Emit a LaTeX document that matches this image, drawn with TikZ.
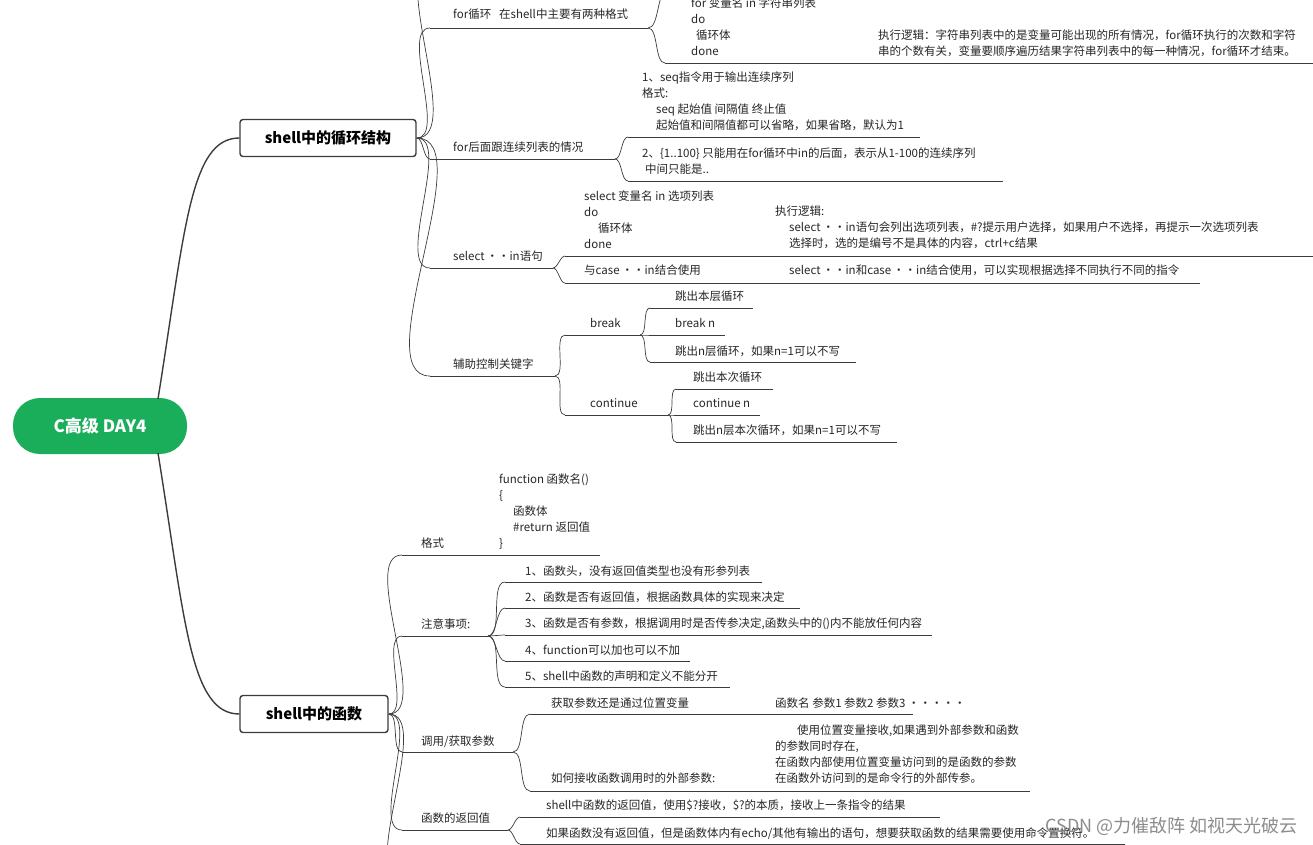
\documentclass[tikz,border=0pt]{standalone}
\usepackage{fontspec}
\setmainfont{Noto Sans CJK SC}
\newfontfamily\cjk{Noto Sans CJK SC}
\definecolor{rootg}{HTML}{1AAE5A}
\definecolor{lnc}{HTML}{3C3C3C}
\newcommand\uline[4]{\coordinate (#1L) at (#2,#3);\coordinate (#1R) at (#4,#3);\draw[ln] (#1L) -- (#1R);}
\tikzset{
  t/.style={font=\cjk\fontsize{11.5}{16}\selectfont, inner sep=0, anchor=north west, align=left, text=black!85},
  ln/.style={draw=lnc, line width=0.7},
  cv/.style={ln, out=0, in=180, looseness=0.7},
  mainbox/.style={draw=lnc, line width=1.4, rounded corners=3, fill=white, minimum width=176, minimum height=37, font=\cjk\bfseries\fontsize{15}{18}\selectfont},
}
\begin{document}
\begin{tikzpicture}[x=1pt,y=-1pt]
\useasboundingbox (0,0) rectangle (1313,845);
\clip (0,0) rectangle (1313,845);
% root
\node[fill=rootg, rounded corners=27, minimum width=174, minimum height=56, text=white, font=\cjk\bfseries\fontsize{17}{20}\selectfont] (root) at (100,426) {C高级 DAY4};
\node[mainbox] (m1) at (328,138) {shell中的循环结构};
\node[mainbox, minimum width=148] (m2) at (314,714) {shell中的函数};
\coordinate (rt) at (158,399);
\coordinate (rb) at (158,453);
\draw[ln, line width=1.4] (rt) .. controls (185,230) and (190,138) .. (m1.west);
\draw[ln, line width=1.4] (rb) .. controls (185,620) and (190,714) .. (m2.west);

% ---------- loop section
\uline{off1}{434}{-40}{560}
\uline{fl}{430}{28}{648}
\uline{fs}{430}{159}{615}
\uline{se}{430}{268}{553}
\uline{fz}{430}{376}{555}
\foreach \c in {off1,fl,fs,se,fz} \draw[cv] (m1.east) to (\c L);
\node[t] (tfl) at (453,9) {for循环\hspace{8pt}在shell中主要有两种格式};
\node[t] (tfs) at (453,142) {for后面跟连续列表的情况};
\node[t] (tse) at (453,251) {select\,··in语句};
\node[t] (tfz) at (453,359) {辅助控制关键字};

\uline{off2}{668}{-10}{1313}
\uline{fb}{665}{63}{1313}
\draw[cv] (flR) to (off2L);
\draw[cv] (flR) to (fbL);
\node[t] (tfb) at (691,-2) {for 变量名 in 字符串列表\\do\\\hspace{5pt}循环体\\done};
\node[t] (tfb2) at (878,30) {执行逻辑：字符串列表中的是变量可能出现的所有情况，for循环执行的次数和字符\\串的个数有关，变量要顺序遍历结果字符串列表中的每一种情况，for循环才结束。};

\uline{sq}{628}{137}{920}
\uline{rg}{628}{181}{1003}
\draw[cv] (fsR) to (sqL);
\draw[cv] (fsR) to (rgL);
\node[t] (tsq) at (642,72) {1、seq指令用于输出连续序列\\格式:\\\hspace{14pt}seq 起始值 间隔值 终止值\\\hspace{14pt}起始值和间隔值都可以省略，如果省略，默认为1};
\node[t] (trg) at (642,148) {2、\{1..100\} 只能用在for循环中in的后面，表示从1-100的连续序列\\\hspace{3pt}中间只能是..};

\uline{sb}{565}{256}{1313}
\uline{sc}{565}{283}{1200}
\draw[cv] (seR) to (sbL);
\draw[cv] (seR) to (scL);
\node[t] (tsb) at (584,191) {select 变量名 in 选项列表\\do\\\hspace{14pt}循环体\\done};
\node[t] (tsb2) at (775,206) {执行逻辑:\\\hspace{14pt}select\,··in语句会列出选项列表，\#?提示用户选择，如果用户不选择，再提示一次选项列表\\\hspace{14pt}选择时，选的是编号不是具体的内容，ctrl+c结果};
\node[t] (tsc) at (584,265) {与case\,··in结合使用};
\node[t] (tsc2) at (789,265) {select\,··in和case\,··in结合使用，可以实现根据选择不同执行不同的指令};

\uline{bk}{565}{335}{640}
\uline{ct}{565}{415}{668}
\draw[cv] (fzR) to (bkL);
\draw[cv] (fzR) to (ctL);
\node[t] (tbk) at (590,318) {break};
\node[t] (tct) at (590,398) {continue};
\uline{b1}{650}{308}{753}
\uline{b2}{650}{335}{725}
\uline{b3}{650}{362}{856}
\foreach \c in {b1,b2,b3} \draw[cv] (bkR) to (\c L);
\node[t] (tb1) at (675,291) {跳出本层循环};
\node[t] (tb2) at (675,318) {break n};
\node[t] (tb3) at (675,346) {跳出n层循环，如果n=1可以不写};
\uline{c1}{676}{389}{773}
\uline{c2}{676}{415}{760}
\uline{c3}{676}{442}{897}
\foreach \c in {c1,c2,c3} \draw[cv] (ctR) to (\c L);
\node[t] (tc1) at (693,372) {跳出本次循环};
\node[t] (tc2) at (693,398) {continue n};
\node[t] (tc3) at (693,425) {跳出n层本次循环，如果n=1可以不写};

% ---------- function section
\uline{gs}{402}{555}{600}
\uline{zy}{402}{636}{488}
\uline{dy}{402}{752}{513}
\uline{fh}{402}{830}{508}
\uline{off3}{402}{880}{500}
\foreach \c in {gs,zy,dy,fh,off3} \draw[cv] (m2.east) to (\c L);
\node[t] (tgs) at (421,538) {格式};
\node[t] (tgs2) at (499,474) {function 函数名()\\\{\\\hspace{14pt}函数体\\\hspace{14pt}\#return 返回值\\\}};
\node[t] (tzy) at (421,619) {注意事项:};
\node[t] (tdy) at (421,736) {调用/获取参数};
\node[t] (tfh) at (421,813) {函数的返回值};

\uline{z1}{505}{582}{762}
\uline{z2}{505}{608}{800}
\uline{z3}{505}{635}{932}
\uline{z4}{505}{661}{690}
\uline{z5}{505}{687}{730}
\foreach \c in {z1,z2,z3,z4,z5} \draw[cv] (zyR) to (\c L);
\node[t] (tz1) at (525,566) {1、函数头，没有返回值类型也没有形参列表};
\node[t] (tz2) at (525,592) {2、函数是否有返回值，根据函数具体的实现来决定};
\node[t] (tz3) at (525,618) {3、函数是否有参数，根据调用时是否传参决定,函数头中的()内不能放任何内容};
\node[t] (tz4) at (525,645) {4、function可以加也可以不加};
\node[t] (tz5) at (525,671) {5、shell中函数的声明和定义不能分开};

\uline{d1}{530}{714}{913}
\uline{d2}{530}{791}{1030}
\draw[cv] (dyR) to (d1L);
\draw[cv] (dyR) to (d2L);
\node[t] (td1) at (551,698) {获取参数还是通过位置变量};
\node[t] (td1b) at (775,698) {函数名 参数1 参数2 参数3 ·····};
\node[t] (td2) at (551,773) {如何接收函数调用时的外部参数:};
\node[t] (td2b) at (775,725) {\hspace{22pt}使用位置变量接收,如果遇到外部参数和函数\\的参数同时存在,\\在函数内部使用位置变量访问到的是函数的参数\\在函数外访问到的是命令行的外部传参。};

\uline{h1}{520}{817}{940}
\uline{h2}{520}{844}{1125}
\draw[cv] (fhR) to (h1L);
\draw[cv] (fhR) to (h2L);
\node[t] (th1) at (546,800) {shell中函数的返回值，使用\$?接收，\$?的本质，接收上一条指令的结果};
\node[t] (th2) at (546,827) {如果函数没有返回值，但是函数体内有echo/其他有输出的语句，想要获取函数的结果需要使用命令置换符。};

\node[font=\cjk\fontsize{18}{20}\selectfont, text=black!45, anchor=east, inner sep=0] (wm) at (1298,826) {CSDN @力催敌阵 如视天光破云};
\end{tikzpicture}
\end{document}
